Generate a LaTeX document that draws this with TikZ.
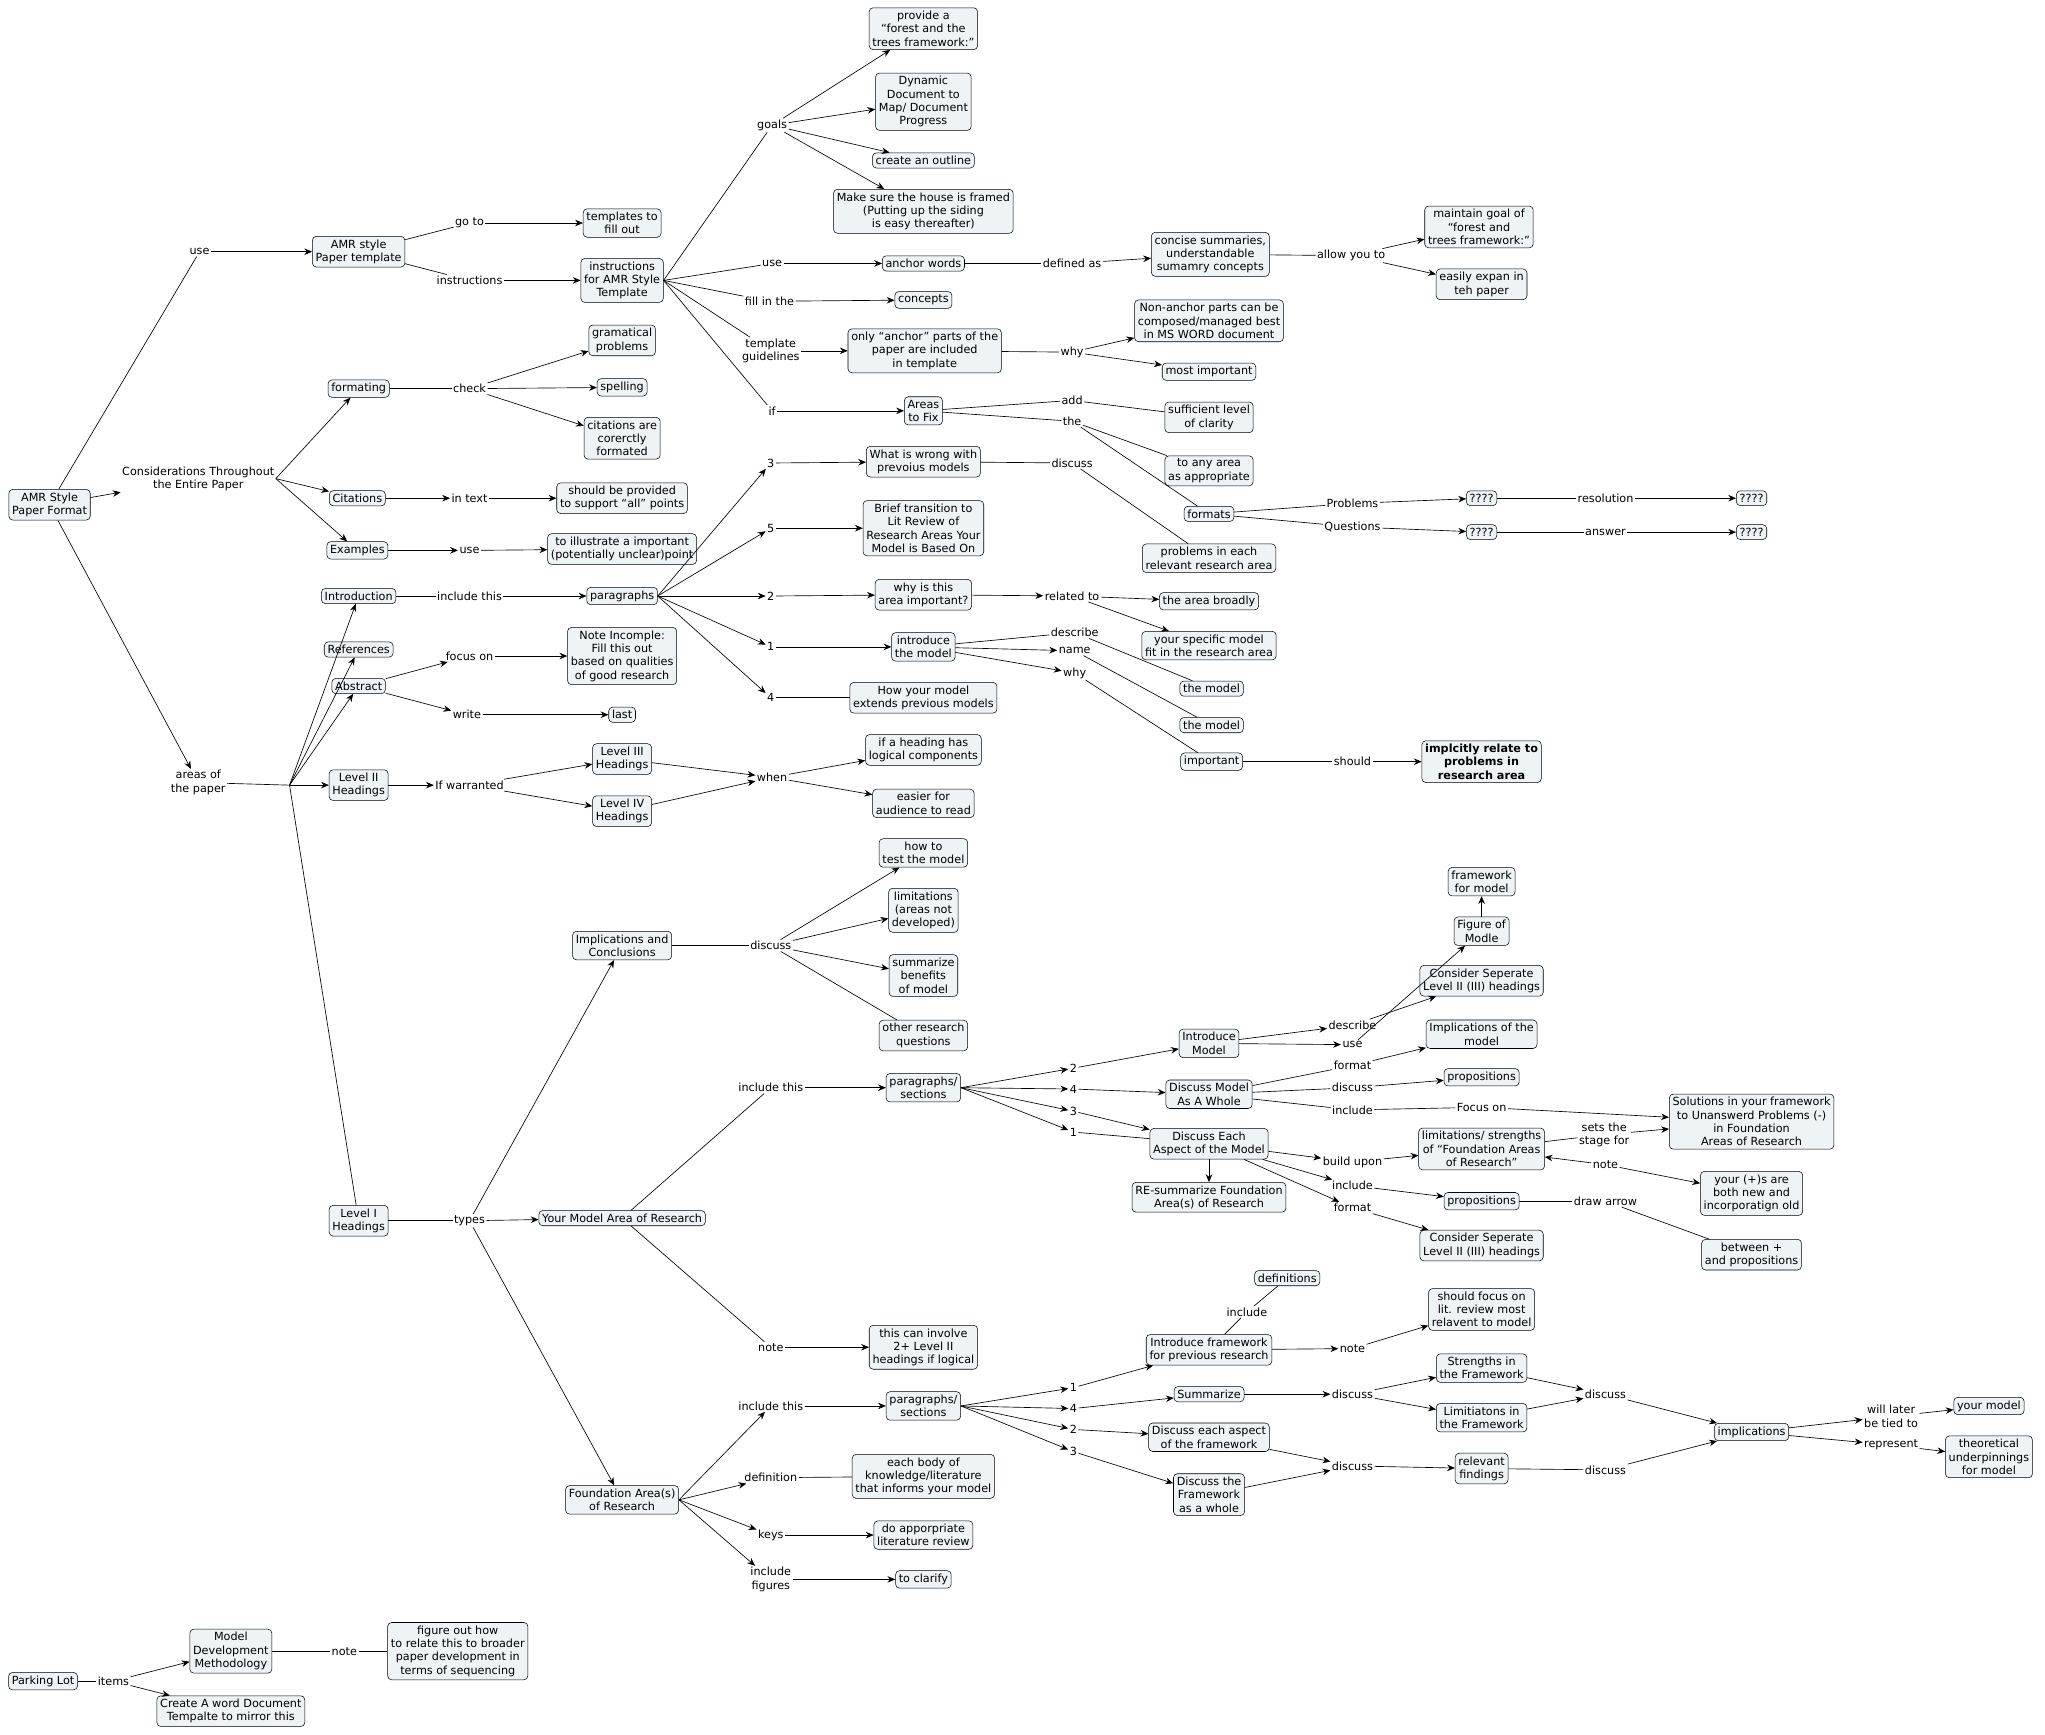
\documentclass[tikz,border=0pt]{standalone}
\usepackage{fontspec}
\setmainfont{DejaVu Sans}
\usetikzlibrary{arrows.meta}
\definecolor{boxfill}{HTML}{EEF3F5}
\tikzset{
 bx/.style={draw, rounded corners=3pt, fill=boxfill, align=center, inner sep=2.5pt, font=\fontsize{8.6}{10.2}\selectfont},
 bb/.style={bx, font=\fontsize{8.6}{10.2}\selectfont\bfseries},
 lb/.style={align=center, inner sep=1pt, font=\fontsize{8.6}{10.2}\selectfont},
 ln/.style={draw, line width=0.5pt},
 ar/.style={draw, line width=0.5pt, -{Stealth[length=6pt,width=5pt]}}
}
\begin{document}
\begin{tikzpicture}[x=1pt,y=-1pt]
\useasboundingbox (0,0) rectangle (1568,1330);
% root
\node[bx] (amr) at (38,387) {AMR Style\\Paper Format};
\node[lb] (use) at (153,193) {use};
\node[lb] (consid) at (152,367) {Considerations Throughout\\the Entire Paper};
\node[lb] (areas) at (152,600) {areas of\\the paper};
\draw[ln] (amr) -- (use); \draw[ar] (amr) -- (consid); \draw[ar] (amr) -- (areas);
\node[bx] (tmpl) at (275,193) {AMR style\\Paper template};
\draw[ar] (use) -- (tmpl);
\node[lb] (goto) at (360,171) {go to};
\node[lb] (instr) at (360,215) {instructions};
\node[bx] (templ) at (477,171) {templates to\\fill out};
\node[bx] (instrn) at (477,215) {instructions\\for AMR Style\\Template};
\draw[ln] (tmpl) -- (goto); \draw[ar] (goto) -- (templ);
\draw[ln] (tmpl) -- (instr); \draw[ar] (instr) -- (instrn);
\node[lb] (goals) at (592,96) {goals};
\node[lb] (use2) at (592,202) {use};
\node[lb] (fillin) at (590,231) {fill in the};
\node[lb] (tg) at (591,269) {template\\guidelines};
\node[lb] (if) at (592,315) {if};
\foreach \t in {goals,use2,fillin,tg,if} \draw[ln] (instrn.east) -- (\t);
\node[bx] (forest) at (708,22) {provide a\\``forest and the\\trees framework:''};
\node[bx] (dyn) at (708,78) {Dynamic\\Document to\\Map/ Document\\Progress};
\node[bx] (outline) at (708,123) {create an outline};
\node[bx] (house) at (708,162) {Make sure the house is framed\\(Putting up the siding\\is easy thereafter)};
\foreach \t in {forest,dyn,outline,house} \draw[ar] (goals) -- (\t);
\node[bx] (anchor) at (708,202) {anchor words};
\draw[ar] (use2) -- (anchor);
\node[lb] (defas) at (822,202) {defined as};
\node[bx] (concise) at (928,195) {concise summaries,\\understandable\\sumamry concepts};
\draw[ln] (anchor) -- (defas); \draw[ar] (defas) -- (concise);
\node[lb] (allow) at (1036,196) {allow you to};
\node[bx] (maintain) at (1134,174) {maintain goal of\\``forest and\\trees framework:''};
\node[bx] (easily) at (1136,218) {easily expan in\\teh paper};
\draw[ln] (concise) -- (allow); \draw[ar] (allow) -- (maintain); \draw[ar] (allow) -- (easily);
\node[bx] (concepts) at (708,230) {concepts};
\draw[ar] (fillin) -- (concepts);
\node[bx] (onlyanchor) at (709,269) {only ``anchor'' parts of the\\paper are included\\in template};
\draw[ar] (tg) -- (onlyanchor);
\node[lb] (why) at (822,270) {why};
\node[bx] (nonanchor) at (927,246) {Non-anchor parts can be\\composed/managed best\\in MS WORD document};
\node[bx] (mostimp) at (927,285) {most important};
\draw[ln] (onlyanchor) -- (why); \draw[ar] (why) -- (nonanchor); \draw[ar] (why) -- (mostimp);
\node[bx] (areasfix) at (708,315) {Areas\\to Fix};
\draw[ar] (if) -- (areasfix);
\node[lb] (add) at (822,307) {add};
\node[lb] (the) at (822,323) {the};
\node[bx] (suff) at (927,320) {sufficient level\\of clarity};
\node[bx] (toany) at (927,361) {to any area\\as appropriate};
\node[bx] (formats) at (927,394) {formats};
\draw[ln] (areasfix) -- (add); \draw[ln] (areasfix) -- (the);
\draw[ln] (add) -- (suff); \draw[ln] (the) -- (toany); \draw[ln] (the) -- (formats);
\node[lb] (probl) at (1037,386) {Problems};
\node[lb] (quest) at (1037,404) {Questions};
\node[bx] (q1) at (1136,382) {????};
\node[bx] (q3) at (1136,408) {????};
\node[lb] (resol) at (1231,382) {resolution};
\node[lb] (answer) at (1231,408) {answer};
\node[bx] (q2) at (1343,382) {????};
\node[bx] (q4) at (1343,408) {????};
\draw[ln] (formats) -- (probl); \draw[ln] (formats) -- (quest);
\draw[ar] (probl) -- (q1); \draw[ar] (quest) -- (q3);
\draw[ln] (q1) -- (resol); \draw[ar] (resol) -- (q2);
\draw[ln] (q3) -- (answer); \draw[ar] (answer) -- (q4);
% considerations
\node[bx] (formating) at (275,298) {formating};
\node[bx] (citations) at (274,382) {Citations};
\node[bx] (examples) at (274,422) {Examples};
\foreach \t in {formating,citations,examples} \draw[ar] (consid.east) -- (\t);
\node[lb] (check) at (360,298) {check};
\node[bx] (gram) at (477,261) {gramatical\\problems};
\node[bx] (spelling) at (477,297) {spelling};
\node[bx] (cit2) at (477,336) {citations are\\corerctly\\formated};
\draw[ln] (formating) -- (check);
\foreach \t in {gram,spelling,cit2} \draw[ar] (check) -- (\t);
\node[lb] (intext) at (360,382) {in text};
\node[bx] (shouldp) at (477,382) {should be provided\\to support ``all'' points};
\draw[ar] (citations) -- (intext); \draw[ar] (intext) -- (shouldp);
\node[lb] (use3) at (360,422) {use};
\node[bx] (illus) at (477,421) {to illustrate a important\\(potentially unclear)point};
\draw[ar] (examples) -- (use3); \draw[ar] (use3) -- (illus);
% areas
\coordinate (hub) at (222,602);
\draw[ln] (areas) -- (hub);
\node[bx] (intro) at (275,457) {Introduction};
\node[bx] (refs) at (275,498) {References};
\node[bx] (abstract) at (275,526) {Abstract};
\node[bx] (l2) at (275,602) {Level II\\Headings};
\node[bx] (l1) at (275,936) {Level I\\Headings};
\foreach \t in {intro,refs,abstract,l2} \draw[ar] (hub) -- (\t);
\draw[ln] (hub) -- (l1);
\node[lb] (incthis) at (360,457) {include this};
\node[bx] (paragraphs) at (477,457) {paragraphs};
\draw[ln] (intro) -- (incthis); \draw[ar] (incthis) -- (paragraphs);
\node[lb] (n3) at (591,355) {3};
\node[lb] (n5) at (591,405) {5};
\node[lb] (n2) at (591,457) {2};
\node[lb] (n1) at (591,496) {1};
\node[lb] (n4) at (591,535) {4};
\foreach \t in {n3,n5,n2,n1,n4} \draw[ar] (paragraphs.east) -- (\t);
\node[bx] (wrong) at (708,354) {What is wrong with\\prevoius models};
\node[bx] (brief) at (708,405) {Brief transition to\\Lit Review of\\Research Areas Your\\Model is Based On};
\node[bx] (whyimp) at (708,456) {why is this\\area important?};
\node[bx] (introd) at (708,496) {introduce\\the model};
\node[bx] (howext) at (708,535) {How your model\\extends previous models};
\draw[ar] (n3) -- (wrong); \draw[ar] (n5) -- (brief); \draw[ar] (n2) -- (whyimp);
\draw[ar] (n1) -- (introd); \draw[ln] (n4) -- (howext);
\node[lb] (disc1) at (822,355) {discuss};
\node[bx] (problems) at (927,428) {problems in each\\relevant research area};
\draw[ln] (wrong) -- (disc1); \draw[ln] (disc1) -- (problems);
\node[lb] (relto) at (822,457) {related to};
\node[bx] (broadly) at (927,461) {the area broadly};
\node[bx] (specific) at (927,495) {your specific model\\fit in the research area};
\draw[ar] (whyimp) -- (relto); \draw[ar] (relto) -- (broadly); \draw[ar] (relto) -- (specific);
\node[lb] (describe) at (824,485) {describe};
\node[lb] (name) at (824,499) {name};
\node[lb] (why2) at (824,516) {why};
\node[bx] (model1) at (929,528) {the model};
\node[bx] (model2) at (929,556) {the model};
\node[bx] (important) at (929,584) {important};
\draw[ln] (introd) -- (describe); \draw[ar] (introd) -- (name); \draw[ar] (introd) -- (why2);
\draw[ln] (describe) -- (model1); \draw[ln] (name) -- (model2); \draw[ln] (why2) -- (important);
\node[lb] (should) at (1037,584) {should};
\node[bb] (implicitly) at (1136,584) {implcitly relate to\\problems in\\research area};
\draw[ln] (important) -- (should); \draw[ar] (should) -- (implicitly);
\node[lb] (focuson) at (360,503) {focus on};
\node[bx] (noteinc) at (477,503) {Note Incomple:\\Fill this out\\based on qualities\\of good research};
\node[lb] (write) at (358,548) {write};
\node[bx] (last) at (477,548) {last};
\draw[ar] (abstract) -- (focuson); \draw[ar] (focuson) -- (noteinc);
\draw[ar] (abstract) -- (write); \draw[ar] (write) -- (last);
\node[lb] (ifw) at (360,602) {If warranted};
\node[bx] (l3) at (477,582) {Level III\\Headings};
\node[bx] (l4) at (477,622) {Level IV\\Headings};
\draw[ar] (l2) -- (ifw); \draw[ar] (ifw) -- (l3); \draw[ar] (ifw) -- (l4);
\node[lb] (when) at (592,596) {when};
\node[bx] (heading) at (708,575) {if a heading has\\logical components};
\node[bx] (easier) at (708,616) {easier for\\audience to read};
\draw[ar] (l3) -- (when); \draw[ar] (l4) -- (when);
\draw[ar] (when) -- (heading); \draw[ar] (when) -- (easier);
% level I
\node[lb] (types) at (360,936) {types};
\draw[ln] (l1) -- (types);
\node[bx] (implc) at (477,725) {Implications and\\Conclusions};
\node[bx] (ymodel) at (477,934) {Your Model Area of Research};
\node[bx] (found) at (477,1150) {Foundation Area(s)\\of Research};
\draw[ar] (types) -- (implc); \draw[ar] (types) -- (ymodel); \draw[ar] (types) -- (found);
\node[lb] (disc2) at (591,725) {discuss};
\draw[ln] (implc) -- (disc2);
\node[bx] (howto) at (708,654) {how to\\test the model};
\node[bx] (limits) at (708,698) {limitations\\(areas not\\developed)};
\node[bx] (summar) at (708,748) {summarize\\benefits\\of model};
\node[bx] (other) at (708,794) {other research\\questions};
\foreach \t in {howto,limits,summar} \draw[ar] (disc2) -- (\t);
\draw[ln] (disc2) -- (other);
\node[lb] (inc2) at (591,834) {include this};
\node[bx] (parsec) at (708,834) {paragraphs/\\sections};
\draw[ln] (ymodel) -- (inc2); \draw[ar] (inc2) -- (parsec);
\node[lb] (note2) at (591,1033) {note};
\node[bx] (involve) at (708,1033) {this can involve\\2+ Level II\\headings if logical};
\draw[ln] (ymodel) -- (note2); \draw[ar] (note2) -- (involve);
\node[lb] (m2) at (823,819) {2};
\node[lb] (m4) at (823,835) {4};
\node[lb] (m3) at (823,852) {3};
\node[lb] (m1) at (823,868) {1};
\foreach \t in {m2,m4,m3,m1} \draw[ar] (parsec.east) -- (\t);
\node[bx] (introM) at (927,800) {Introduce\\Model};
\node[bx] (dmw) at (927,839) {Discuss Model\\As A Whole};
\node[bx] (dea) at (927,877) {Discuss Each\\Aspect of the Model};
\node[bx] (resum) at (927,918) {RE-summarize Foundation\\Area(s) of Research};
\draw[ar] (m2) -- (introM); \draw[ar] (m4) -- (dmw); \draw[ar] (m3) -- (dea); \draw[ln] (m1) -- (dea);
\draw[ar] (dea) -- (resum);
\node[lb] (descr2) at (1037,786) {describe};
\node[lb] (use4) at (1037,801) {use};
\draw[ar] (introM) -- (descr2); \draw[ar] (introM) -- (use4);
\node[bx] (fwm) at (1136,676) {framework\\for model};
\node[bx] (figm) at (1136,714) {Figure of\\Modle};
\node[bx] (cons1) at (1136,752) {Consider Seperate\\Level II (III) headings};
\node[bx] (implm) at (1136,793) {Implications of the\\model};
\draw[ar] (descr2) -- (cons1); \draw[ar] (use4) -- (figm); \draw[ar] (figm) -- (fwm);
\node[lb] (fmt) at (1037,817) {format};
\node[lb] (disc3) at (1037,834) {discuss};
\node[lb] (inc3) at (1037,851) {include};
\draw[ln] (dmw) -- (fmt); \draw[ln] (dmw) -- (disc3); \draw[ln] (dmw) -- (inc3);
\node[bx] (props1) at (1136,826) {propositions};
\node[lb] (focus2) at (1136,849) {Focus on};
\draw[ar] (fmt) -- (implm); \draw[ar] (disc3) -- (props1); \draw[ln] (inc3) -- (focus2);
\node[bx] (solutions) at (1343,860) {Solutions in your framework\\to Unanswerd Problems (-)\\in Foundation\\Areas of Research};
\draw[ar] (focus2) -- (solutions);
\node[lb] (build) at (1037,891) {build upon};
\node[lb] (inc4) at (1037,909) {include};
\node[lb] (fmt2) at (1037,926) {format};
\draw[ar] (dea) -- (build); \draw[ar] (dea) -- (inc4); \draw[ar] (dea) -- (fmt2);
\node[bx] (limf) at (1136,881) {limitations/ strengths\\of ``Foundation Areas\\of Research''};
\node[bx] (props2) at (1136,921) {propositions};
\node[bx] (cons2) at (1136,955) {Consider Seperate\\Level II (III) headings};
\draw[ar] (build) -- (limf); \draw[ar] (inc4) -- (props2); \draw[ar] (fmt2) -- (cons2);
\node[lb] (sets) at (1230,870) {sets the\\stage for};
\node[lb] (note3) at (1231,893) {note};
\node[bx] (plus) at (1343,915) {your (+)s are\\both new and\\incorporatign old};
\draw[ln] (limf) -- (sets); \draw[ar] (sets) -- (solutions);
\draw[ar] (note3) -- (limf); \draw[ar] (note3) -- (plus);
\node[lb] (draw) at (1231,921) {draw arrow};
\node[bx] (between) at (1343,962) {between +\\and propositions};
\draw[ln] (props2) -- (draw); \draw[ln] (draw) -- (between);
% foundation
\node[lb] (inc5) at (591,1078) {include this};
\node[lb] (defn) at (591,1133) {definition};
\node[lb] (keys) at (591,1177) {keys};
\node[lb] (incfig) at (591,1211) {include\\figures};
\foreach \t in {inc5,defn,keys,incfig} \draw[ar] (found.east) -- (\t);
\node[bx] (parsec2) at (708,1078) {paragraphs/\\sections};
\node[bx] (each) at (708,1132) {each body of\\knowledge/literature\\that informs your model};
\node[bx] (doapp) at (708,1177) {do apporpriate\\literature review};
\node[bx] (clarify) at (708,1211) {to clarify};
\draw[ar] (inc5) -- (parsec2); \draw[ln] (defn) -- (each); \draw[ar] (keys) -- (doapp); \draw[ar] (incfig) -- (clarify);
\node[lb] (k1) at (823,1064) {1};
\node[lb] (k4) at (823,1080) {4};
\node[lb] (k2) at (823,1096) {2};
\node[lb] (k3) at (823,1113) {3};
\foreach \t in {k1,k4,k2,k3} \draw[ar] (parsec2.east) -- (\t);
\node[bx] (introfw) at (927,1035) {Introduce framework\\for previous research};
\node[bx] (summ) at (927,1069) {Summarize};
\node[bx] (deach) at (927,1102) {Discuss each aspect\\of the framework};
\node[bx] (dtf) at (927,1146) {Discuss the\\Framework\\as a whole};
\draw[ar] (k1) -- (introfw); \draw[ar] (k4) -- (summ); \draw[ar] (k2) -- (deach); \draw[ar] (k3) -- (dtf);
\node[lb] (inc6) at (956,1006) {include};
\node[bx] (defs) at (987,980) {definitions};
\draw[ln] (introfw) -- (inc6); \draw[ln] (inc6) -- (defs);
\node[lb] (note4) at (1037,1034) {note};
\node[bx] (shfocus) at (1136,1004) {should focus on\\lit. review most\\relavent to model};
\draw[ar] (introfw) -- (note4); \draw[ar] (note4) -- (shfocus);
\node[lb] (disc4) at (1037,1069) {discuss};
\node[bx] (strength) at (1136,1049) {Strengths in\\the Framework};
\node[bx] (limfw) at (1136,1087) {Limitiatons in\\the Framework};
\draw[ar] (summ) -- (disc4); \draw[ar] (disc4) -- (strength); \draw[ar] (disc4) -- (limfw);
\node[lb] (disc5) at (1037,1124) {discuss};
\node[bx] (relev) at (1136,1126) {relevant\\findings};
\draw[ar] (deach) -- (disc5); \draw[ar] (dtf) -- (disc5); \draw[ar] (disc5) -- (relev);
\node[lb] (disc6) at (1231,1069) {discuss};
\node[lb] (disc7) at (1231,1127) {discuss};
\node[bx] (implic) at (1343,1098) {implications};
\draw[ar] (strength) -- (disc6); \draw[ar] (limfw) -- (disc6); \draw[ar] (disc6) -- (implic);
\draw[ln] (relev) -- (disc7); \draw[ar] (disc7) -- (implic);
\node[lb] (later) at (1450,1086) {will later\\be tied to};
\node[lb] (repr) at (1450,1108) {represent};
\node[bx] (ymod2) at (1525,1078) {your model};
\node[bx] (theo) at (1525,1117) {theoretical\\underpinnings\\for model};
\draw[ar] (implic) -- (later); \draw[ar] (implic) -- (repr);
\draw[ar] (later) -- (ymod2); \draw[ar] (repr) -- (theo);
% parking lot
\node[bx] (park) at (33,1289) {Parking Lot};
\node[lb] (items) at (87,1289) {items};
\node[bx] (mdm) at (177,1266) {Model\\Development\\Methodology};
\node[bx] (create) at (177,1312) {Create A word Document\\Tempalte to mirror this};
\draw[ln] (park) -- (items); \draw[ar] (items) -- (mdm); \draw[ar] (items) -- (create);
\node[lb] (note5) at (264,1266) {note};
\node[bx] (figout) at (351,1266) {figure out how\\to relate this to broader\\paper development in\\terms of sequencing};
\draw[ln] (mdm) -- (note5); \draw[ln] (note5) -- (figout);
\end{tikzpicture}
\end{document}
